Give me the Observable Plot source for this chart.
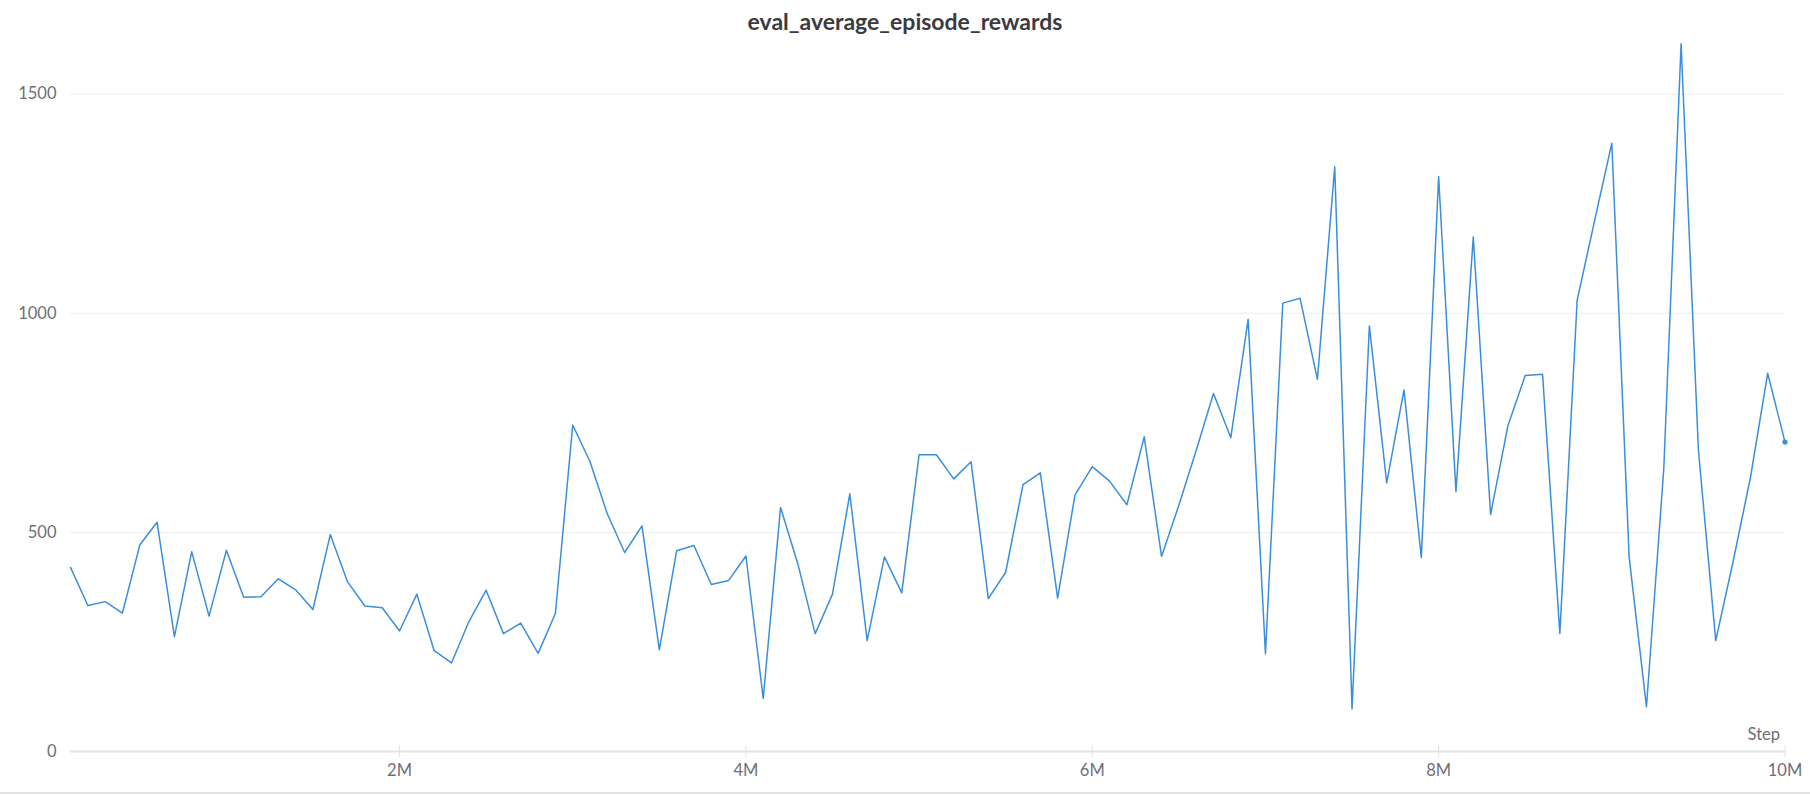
<!DOCTYPE html>
<html>
<head>
<meta charset="utf-8">
<script src="https://cdn.jsdelivr.net/npm/d3@7"></script>
<script src="https://cdn.jsdelivr.net/npm/@observablehq/plot@0.6"></script>
<style>
  html, body { margin: 0; padding: 0; background: #fff; }
  #wrap { position: relative; width: 1810px; height: 795px; overflow: hidden; font-family: "Source Sans Pro", Lato, sans-serif; }
  #title { position: absolute; top: 0; left: 0; width: 1810px; text-align: center; line-height: 42px; font-size: 23px; font-weight: 700; color: #3b3b3f; z-index: 2; }
  #bottomline { position: absolute; left: 0; top: 792px; width: 1810px; height: 2px; background: #e4e4e6; }
  #chart { position: absolute; top: 0; left: 0; }
</style>
</head>
<body>
<div id="wrap">
  <div id="chart"></div>
  <div id="title"></div>
  <div id="bottomline"></div>
</div>
<script>
const titleText = "eval_average_episode_rewards";
const xLabel = "Step";
const rewards = [
  420, 333, 342, 316, 471, 523, 262, 456, 309, 459,
  352, 353, 394, 369, 324, 495, 387, 332, 328, 275,
  359, 230, 202, 296, 368, 269, 293, 224, 315, 745,
  661, 542, 454, 515, 232, 458, 470, 381, 390, 446,
  121, 557, 428, 269, 359, 588, 253, 444, 362, 677,
  677, 622, 661, 349, 409, 609, 636, 350, 585, 650,
  617, 563, 718, 445, 562, 687, 817, 716, 986, 223,
  1023, 1034, 849, 1334, 97, 971, 613, 825, 442, 1312,
  593, 1174, 541, 743, 858, 861, 269, 1030, 1210, 1388,
  444, 102, 645, 1615, 688, 253, 433, 624, 863, 706
];
const stepSize = 100000;
const steps = rewards.map((_, i) => (i + 1) * stepSize);
const xTicks = [2000000, 4000000, 6000000, 8000000, 10000000];
const yTicks = [0, 500, 1000, 1500];
const yGrid = [500, 1000, 1500];

document.getElementById("title").textContent = titleText;

const data = steps.map((s, i) => ({step: s, value: rewards[i]}));
const last = [data[data.length - 1]];

const lineColor = "#3a8fdc";
const labelColor = "#6e6e78";

const chart = Plot.plot({
  width: 1810,
  height: 795,
  marginTop: 41,
  marginBottom: 44,
  marginLeft: 70,
  marginRight: 25.5,
  style: {fontFamily: "'Source Sans Pro', Lato, sans-serif", fontSize: "16px", background: "transparent", overflow: "visible"},
  x: {type: "linear", domain: [steps[0], steps[steps.length - 1]]},
  y: {domain: [0, 1620]},
  marks: [
    Plot.gridY(yGrid, {stroke: "#ededf0", strokeOpacity: 1, strokeWidth: 1}),
    Plot.ruleY([0], {stroke: "#e3e3e6", strokeWidth: 2}),
    Plot.axisX(xTicks, {tickSize: 12, dy: -6, stroke: "#e3e3e6", strokeWidth: 1, tickFormat: () => "", label: null}),
    Plot.axisX(xTicks, {tickSize: 0, tickPadding: 13, fill: labelColor, fontSize: 16.5, tickFormat: d => (d / 1e6) + "M", label: null}),
    Plot.axisY(yTicks, {tickSize: 0, tickPadding: 14, fill: labelColor, fontSize: 16.5, tickFormat: d => String(d), label: null}),
    Plot.line(data, {x: "step", y: "value", stroke: lineColor, strokeWidth: 1.5, curve: "linear"}),
    Plot.dot(last, {x: "step", y: "value", fill: lineColor, r: 2.6, stroke: "none"}),
    Plot.text([xLabel], {frameAnchor: "bottom-right", dx: -5, dy: -12, textAnchor: "end", fill: labelColor, fontSize: 16.5})
  ]
});
document.getElementById("chart").appendChild(chart);
</script>
</body>
</html>
